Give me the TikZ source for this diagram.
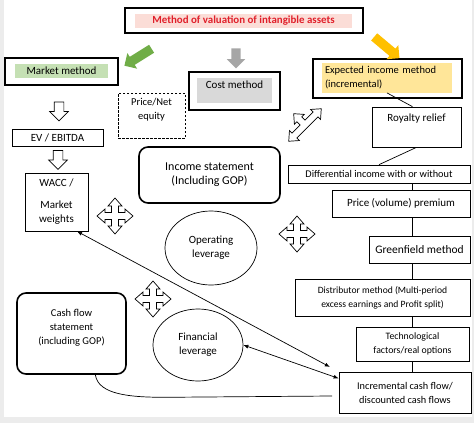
\documentclass[tikz,border=0pt]{standalone}
\usepackage{fontspec}
\setmainfont{Carlito}
\usetikzlibrary{calc,positioning,shapes.geometric,shapes.arrows,arrows.meta}

\definecolor{titlered}{HTML}{E0202B}
\definecolor{titlefill}{HTML}{FBDDD7}
\definecolor{marketfill}{HTML}{C5E0B4}
\definecolor{greenarrow}{HTML}{70AD47}
\definecolor{costfill}{HTML}{D9D9D9}
\definecolor{grayarrow}{HTML}{A6A6A6}
\definecolor{expectfill}{HTML}{FFE699}
\definecolor{yellowarrow}{HTML}{FFC000}
\definecolor{pageedge}{HTML}{ECECEC}

\tikzset{
	fourway/.pic={
		\draw[line width=0.7pt,fill=white] (3.5,3.5) -- (3.5,10) -- (7,10) -- (0,18) -- (-7,10) -- (-3.5,10)
			-- (-3.5,3.5) -- (-10,3.5) -- (-10,7) -- (-18,0) -- (-10,-7) -- (-10,-3.5)
			-- (-3.5,-3.5) -- (-3.5,-10) -- (-7,-10) -- (0,-18) -- (7,-10) -- (3.5,-10)
			-- (3.5,-3.5) -- (10,-3.5) -- (10,-7) -- (18,0) -- (10,7) -- (10,3.5) -- cycle;
	},
	threeway/.pic={
		\draw[line width=0.7pt,fill=white] (-15,3.5) -- (15,3.5) -- (15,7) -- (23,0) -- (15,-7) -- (15,-3.5)
			-- (3.5,-3.5) -- (3.5,-8) -- (7,-8) -- (0,-16) -- (-7,-8) -- (-3.5,-8)
			-- (-3.5,-3.5) -- (-15,-3.5) -- (-15,-7) -- (-23,0) -- (-15,7) -- cycle;
	}
}

\begin{document}
\begin{tikzpicture}[x=1pt,y=-1pt,
	font=\fontsize{10.5}{14}\selectfont,
	fs/.style={font=\fontsize{#1}{14}\selectfont},
	framebox/.style={draw,line width=2.8pt,fill=white,inner sep=0pt},
	thinbox/.style={draw,line width=0.7pt,fill=white,align=center},
	roundbox/.style={draw,line width=1.6pt,rounded corners=9pt,fill=white,align=center},
	ovalnode/.style={ellipse,draw,line width=0.7pt,fill=white,align=center,inner sep=0pt,fs=11},
	hollowarrow/.style={single arrow,draw,line width=0.7pt,fill=white,minimum height=19pt,
		inner xsep=0pt,inner ysep=4.5pt,single arrow head extend=4.5pt,rotate=-90},
	colarrow/.style={single arrow,draw=none,inner xsep=0pt,inner ysep=4.5pt,single arrow head extend=4.5pt},
	thinline/.style={line width=0.7pt},
	dblarrow/.style={{Latex[length=5pt,width=4pt]}-{Latex[length=5pt,width=4pt]},line width=0.7pt}]

	\useasboundingbox (0,0) rectangle (474,423);
	\fill[pageedge] (0,0) rectangle (474,423);
	\fill[white] (4,0) rectangle (472,417);

	% the three methods
	\node[framebox,minimum width=238pt,minimum height=25pt] (title) at (244,20.5) {};
	\node[fill=titlefill,minimum width=217pt,minimum height=14pt,inner sep=0pt,text=titlered,
		font=\fontsize{10.9}{14}\selectfont\bfseries] (titletext) at (243.5,21) {Method of valuation of intangible assets};

	\node[framebox,minimum width=113pt,minimum height=27pt] (market) at (61.5,71.5) {};
	\node[fill=marketfill,minimum width=93pt,minimum height=14pt,inner sep=0pt,fs=11] (markettext) at (61.5,71) {Market method};

	\node[framebox,minimum width=91pt,minimum height=38pt] (cost) at (234.5,91) {};
	\node[fill=costfill,minimum width=75pt,minimum height=25pt,text depth=11pt,fs=11] (costtext) at (234.5,90.5) {Cost method};

	\node[framebox,minimum width=149pt,minimum height=39pt] (expected) at (387.5,78.5) {};
	\node[fill=expectfill,minimum width=130pt,minimum height=26pt,text width=124pt,align=left,
		inner xsep=3pt] (expectedtext) at (387,78) {Expected income method\\(incremental)};

	\node[colarrow,fill=greenarrow,minimum height=32pt,rotate=212] (greenarr) at (140,56) {};
	\node[colarrow,fill=grayarrow,minimum height=20pt,rotate=-90] (grayarr) at (236,56) {};
	\node[colarrow,fill=yellowarrow,minimum height=33pt,rotate=-40] (yellowarr) at (385,46) {};

	\node[thinbox,dashed,dash pattern=on 2.5pt off 1.5pt,minimum width=67pt,minimum height=45pt,
		text depth=12.5pt] (pricenet) at (151.5,115.5) {Price/Net\\equity};

	% market side
	\node[hollowarrow] (downa) at (59,109) {};
	\node[thinbox,minimum width=91pt,minimum height=17pt,fs=11] (ebitda) at (57.5,137.5) {EV / EBITDA};
	\node[hollowarrow] (downb) at (58,157.5) {};
	\node[thinbox,minimum width=63pt,minimum height=58pt,fs=11] (wacc) at (56.5,202) {WACC /\\[8pt]Market\\weights};

	% statements and leverage
	\node[roundbox,minimum width=141pt,minimum height=56pt,fs=12] (income) at (209.5,175) {Income statement\\(Including GOP)};
	\node[ovalnode,minimum width=92pt,minimum height=74pt] (operating) at (211,248) {Operating\\leverage};
	\node[ovalnode,minimum width=90pt,minimum height=72pt] (financial) at (198,345) {Financial\\leverage};
	\node[roundbox,minimum width=109pt,minimum height=81pt,text depth=13pt] (cashflow) at (71.5,333.5)
		{Cash flow\\statement\\(including GOP)};

	% income side
	\node[thinbox,minimum width=89pt,minimum height=40pt,text depth=18pt,fs=11] (royalty) at (416.5,127) {Royalty relief};
	\node[thinbox,minimum width=182pt,minimum height=18pt,fs=10.3] (differential) at (379,174) {Differential income with or without};
	\node[thinbox,minimum width=138pt,minimum height=27pt,fs=11] (premium) at (401,203.5) {Price (volume) premium};
	\node[thinbox,minimum width=101pt,minimum height=27pt,fs=11.5] (greenfield) at (419.5,249.5) {Greenfield method};
	\node[thinbox,minimum width=175pt,minimum height=37pt,fs=9.6] (distributor) at (382.5,297.5)
		{Distributor method (Multi-period\\excess earnings and Profit split)};
	\node[thinbox,minimum width=113pt,minimum height=34pt,fs=9.8] (techno) at (412.5,344) {Technological\\factors/real options};
	\node[thinbox,minimum width=132pt,minimum height=41pt,fs=10.3] (incremental) at (405,392.5)
		{Incremental cash flow/\\discounted cash flows};

	\pic at (115,216) {fourway};
	\pic at (297,234) {fourway};
	\pic at (153,299) {fourway};
	\pic[rotate=45] at (305,125) {threeway};

	% connectors
	\coordinate (chainx) at (412,0);
	\coordinate (cfend) at (332,396);
	\draw[thinline] (expectedtext.south) -- ([xshift=-4pt]royalty.north);
	\draw[thinline] (royalty.south) -- (differential.north);
	\foreach \a/\b in {differential/premium,premium/greenfield,greenfield/distributor,distributor/techno,techno/incremental}
		\draw[thinline] (\a.south -| chainx) -- (\b.north -| chainx);
	\draw[dblarrow,shorten >=10pt] (wacc.-55) -- (incremental.north west);
	\draw[dblarrow] (financial.east) -- (incremental.168);
	\draw[thinline] (cashflow.-60) .. controls +(3,20) and +(-35,0) .. ++(70,22.5) -- (cfend);
\end{tikzpicture}
\end{document}
